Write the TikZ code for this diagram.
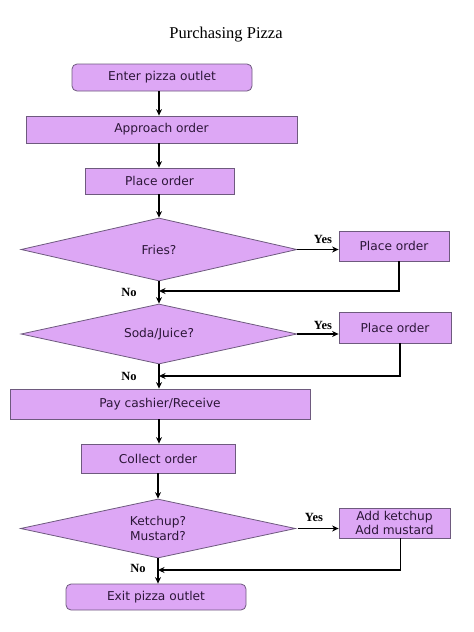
\documentclass[tikz,border=0pt]{standalone}
\usepackage{fontspec}
\setmainfont{Liberation Serif}
\newfontfamily\boxfont{DejaVu Sans}
\usetikzlibrary{positioning,calc,arrows.meta,shapes.geometric}
\definecolor{boxfill}{HTML}{DDA7F5}
\definecolor{boxline}{HTML}{6E5A7E}
\definecolor{boxtext}{HTML}{2C1638}

\begin{document}
\begin{tikzpicture}[x=1pt,y=-1pt,
		stepbox/.style={draw=boxline, fill=boxfill, line width=0.8pt, text=boxtext, inner sep=0pt, font=\boxfont\fontsize{12.2}{14.5}\selectfont},
		endbox/.style={stepbox, rounded corners=5pt},
		choice/.style={stepbox, diamond, aspect=4.6, align=center},
		flow/.style={line width=1.8pt, -{Stealth[length=6.5pt,width=6pt]}},
		answer/.style={font=\bfseries\fontsize{12.5}{14}\selectfont}]
		\useasboundingbox (0,0) rectangle (474,632);
		\node[font=\fontsize{16.5}{18}\selectfont] (title) at (226,35) {Purchasing Pizza};
		
		\node[endbox, minimum width=180pt, minimum height=27pt] (enter) at (162,77.5) {Enter pizza outlet};
		\node[stepbox, minimum width=271pt, minimum height=27pt] (approach) at (161.5,129.5) {Approach order};
		\node[stepbox, minimum width=149pt, minimum height=26pt] (order) at (159.5,181) {Place order};
		\node[choice, minimum width=276pt, minimum height=63pt] (fries) at (159,249.5) {Fries?};
		\node[stepbox, minimum width=110pt, minimum height=30pt] (friesorder) at (394,246) {Place order};
		\node[choice, minimum width=276pt, minimum height=60pt] (soda) at (159,334) {Soda/Juice?};
		\node[stepbox, minimum width=112pt, minimum height=31pt] (sodaorder) at (395,327.5) {Place order};
		\node[stepbox, minimum width=300pt, minimum height=30pt] (pay) at (160,404) {Pay cashier/Receive};
		\node[stepbox, minimum width=154pt, minimum height=29pt] (collect) at (158,458.5) {Collect order};
		\node[choice, minimum width=275pt, minimum height=59pt] (ketchup) at (158,528.5) {Ketchup?\\Mustard?};
		\node[stepbox, minimum width=111pt, minimum height=30pt, align=center] (sauce) at (394.5,523) {Add ketchup\\Add mustard};
		\node[endbox, minimum width=180pt, minimum height=26pt] (exit) at (156,597) {Exit pizza outlet};
		
		\coordinate (friesback) at (159,291);
		\coordinate (sodaback) at (159,376);
		\coordinate (sauceback) at (158,570);
		
		\draw[flow] (enter.south -| fries) -- (approach.north -| fries);
		\draw[flow] (approach.south -| fries) -- (order.north -| fries);
		\draw[flow] (order.south -| fries) -- (fries.north);
		\draw[flow] (fries.south) -- (soda.north);
		\draw[flow] (soda.south) -- (pay.north -| soda);
		\draw[flow] (pay.south -| soda) -- (collect.north -| soda);
		\draw[flow] (collect.south -| ketchup) -- (ketchup.north);
		\draw[flow] (ketchup.south) -- (exit.north -| ketchup);
		
		\draw[flow] (fries.east) -- (fries.east -| friesorder.west);
		\draw[flow] (soda.east) -- (soda.east -| sodaorder.west);
		\draw[flow] ([xshift=2pt]ketchup.east) -- (ketchup.east -| sauce.west);
		
		\draw[flow] ([xshift=5pt]friesorder.south) |- (friesback);
		\draw[flow] ([xshift=5pt]sodaorder.south) |- (sodaback);
		\draw[flow] ([xshift=6pt]sauce.south) |- (sauceback);
		
		\node[answer] (yesfries) at (323,239) {Yes};
		\node[answer] (yessoda) at (323,325) {Yes};
		\node[answer] (yessauce) at (314,517) {Yes};
		\node[answer] (nofries) at (129,292) {No};
		\node[answer] (nosoda) at (129,376) {No};
		\node[answer] (nosauce) at (138,568) {No};
	\end{tikzpicture}
\end{document}
